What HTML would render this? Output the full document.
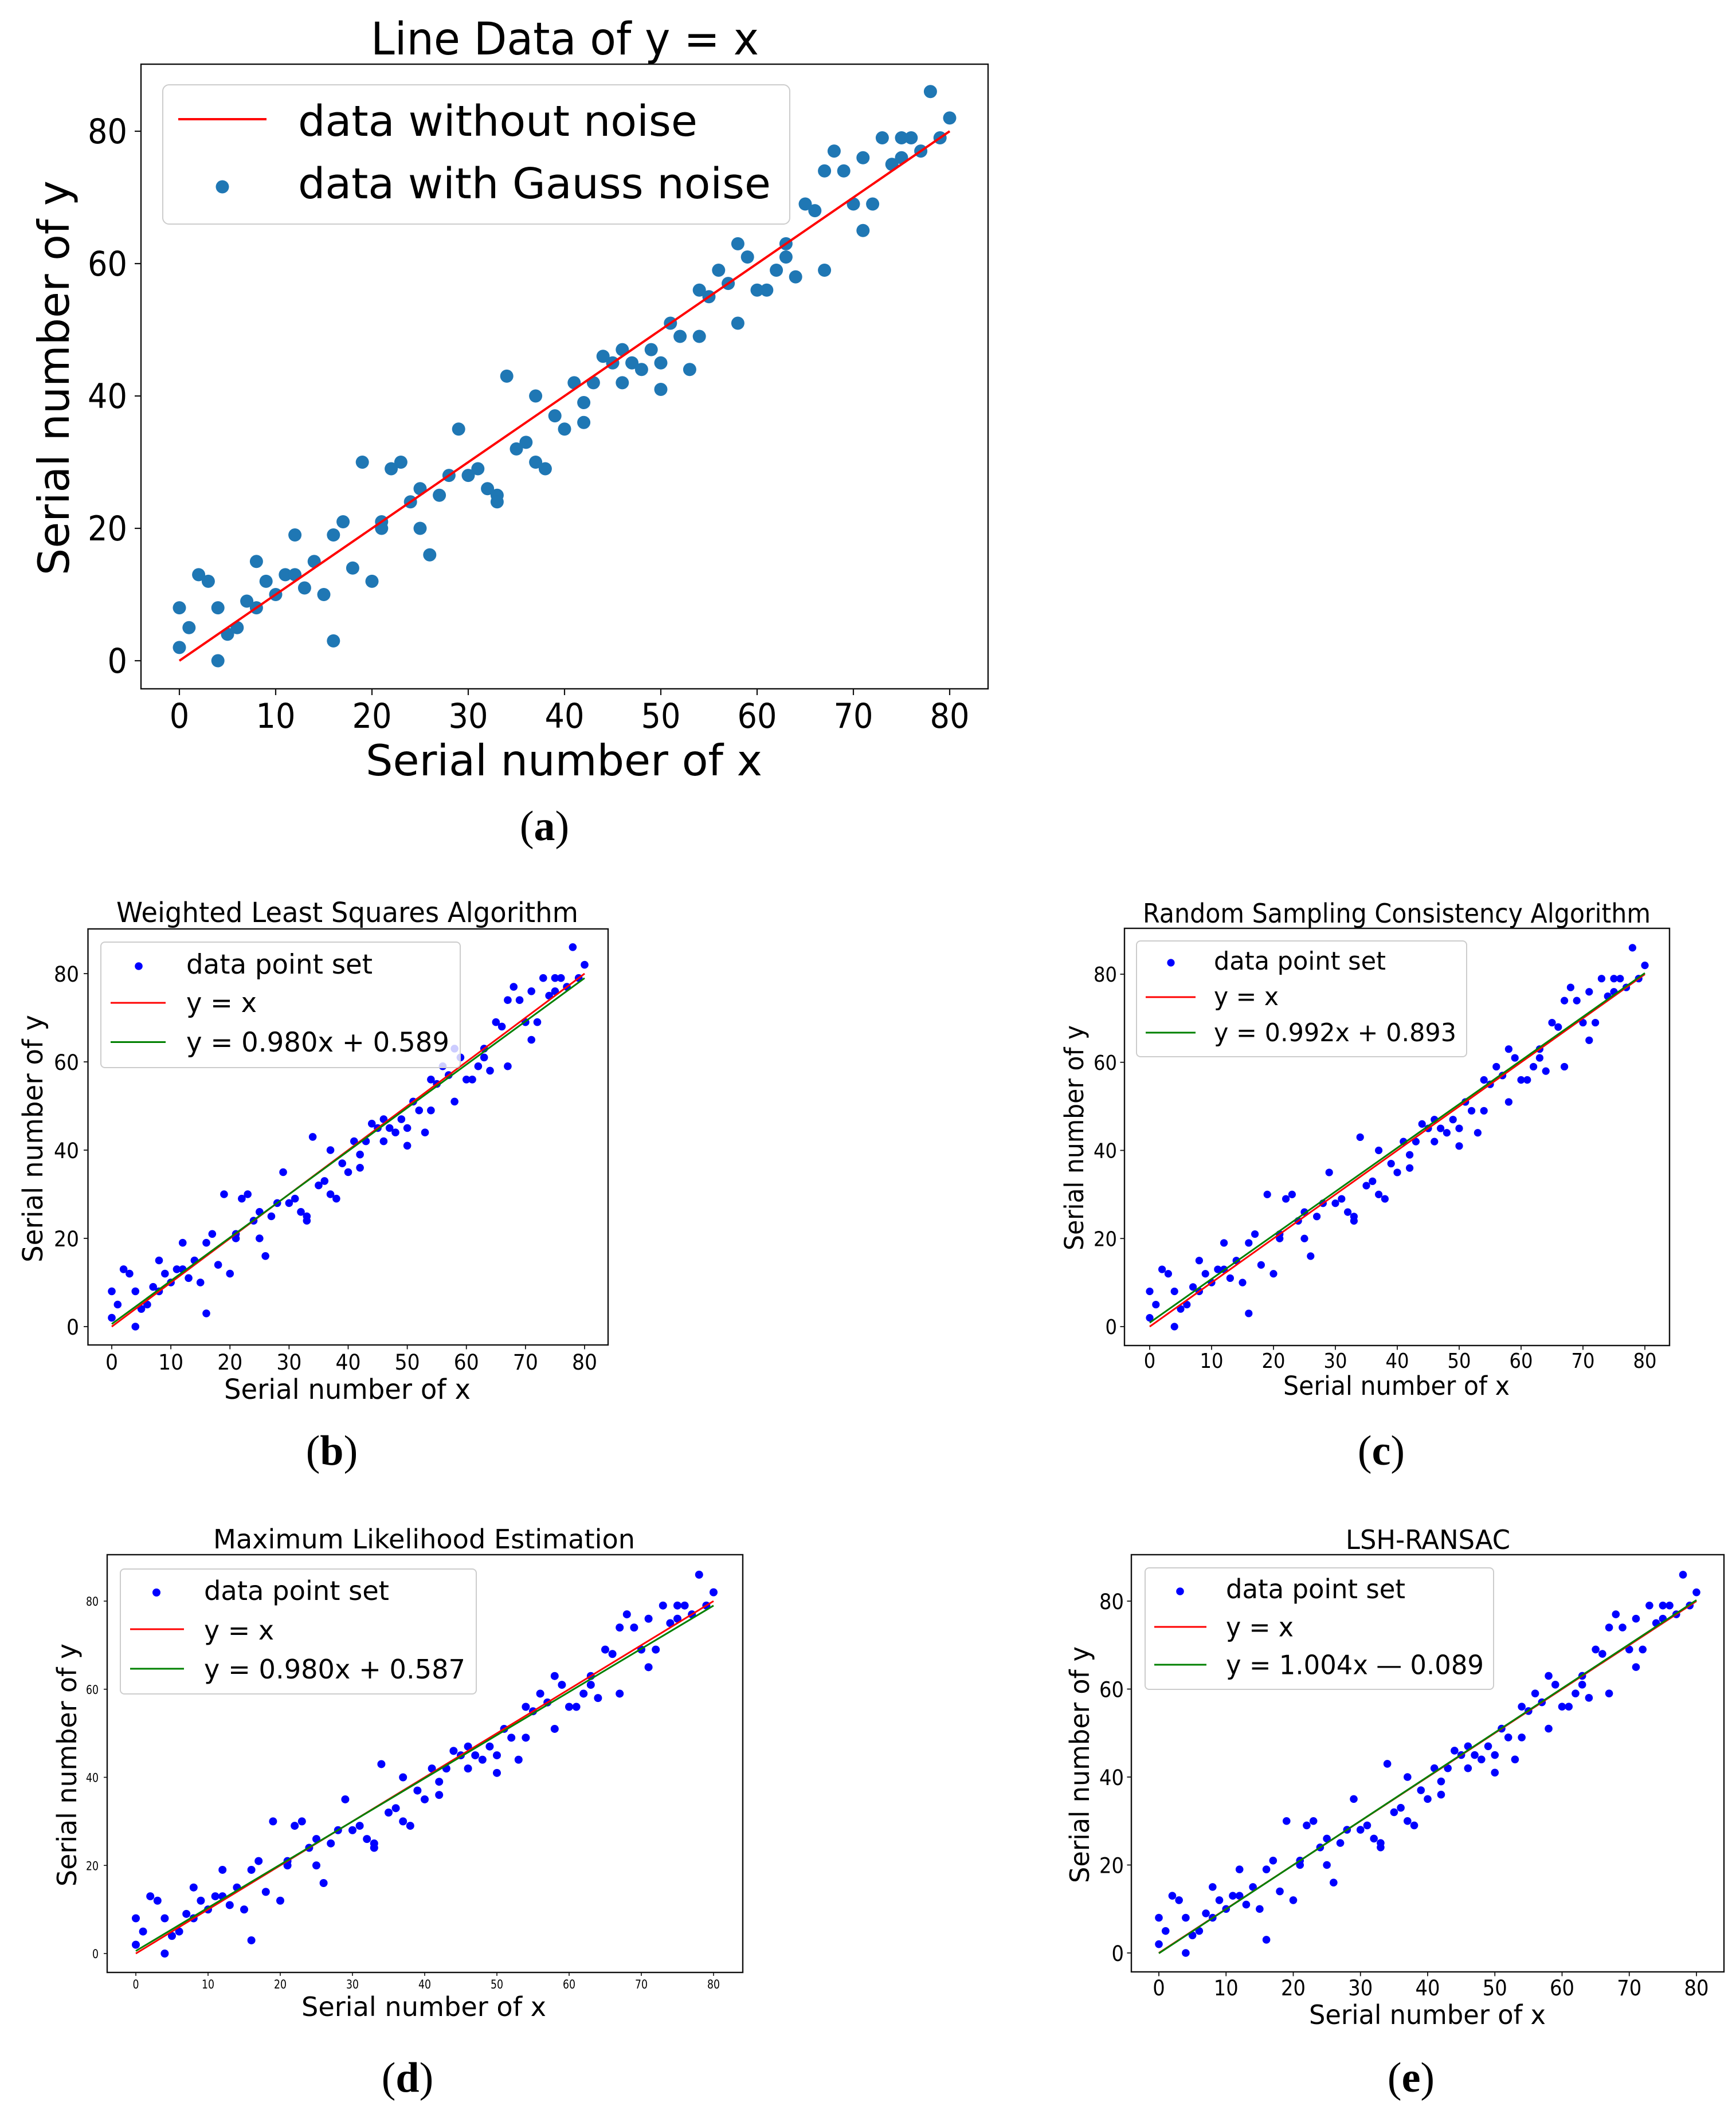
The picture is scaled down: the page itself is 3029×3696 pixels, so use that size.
<!DOCTYPE html>
<html lang="en">
<head>
<meta charset="utf-8">
<title>Line fitting algorithm comparison</title>
<style>
html,body{margin:0;padding:0;background:#fff;}
svg{display:block;}
text{font-family:"DejaVu Sans","Liberation Sans",sans-serif;fill:#000;}
.caption{font-family:"Liberation Serif",serif;font-size:74px;text-anchor:middle;}
.caption tspan{font-weight:bold;}
.legend-box{fill:#fff;fill-opacity:.8;stroke:#ccc;stroke-width:2;}
.frame{fill:none;stroke:#111;stroke-width:2.4;}
</style>
</head>
<body>
<svg id="figure" xmlns="http://www.w3.org/2000/svg" width="3029" height="3696" viewBox="0 0 3029 3696">
<rect width="3029" height="3696" fill="#fff"/>

<!-- Panel a -->
<g>
  <text x="647" y="95" font-size="78" textLength="677" lengthAdjust="spacingAndGlyphs">Line Data of y = x</text>
  <g id="marks-a"></g>
  <rect class="frame" x="246" y="112" width="1478" height="1090"/>
  <g id="ticks-a"></g>
  <text x="638" y="1353" font-size="75" textLength="692" lengthAdjust="spacingAndGlyphs">Serial number of x</text>
  <text transform="translate(120,1004) rotate(-90)" font-size="75" textLength="689" lengthAdjust="spacingAndGlyphs">Serial number of y</text>
  <g>
    <rect class="legend-box" x="284" y="148" width="1094" height="243" rx="11"/>
    <line x1="311" x2="465" y1="208" y2="208" stroke="#f00" stroke-width="4"/>
    <circle cx="388" cy="326" r="11.5" fill="#1f77b4"/>
    <text x="520" y="237" font-size="74" textLength="697" lengthAdjust="spacingAndGlyphs">data without noise</text>
    <text x="520" y="346" font-size="74" textLength="825" lengthAdjust="spacingAndGlyphs">data with Gauss noise</text>
  </g>
  <text class="caption" x="950" y="1466">(<tspan>a</tspan>)</text>
</g>

<!-- Panel b -->
<g>
  <text x="203" y="1609" font-size="48" textLength="806" lengthAdjust="spacingAndGlyphs">Weighted Least Squares Algorithm</text>
  <g id="marks-b"></g>
  <rect class="frame" x="153.5" y="1621" width="907.5" height="726"/>
  <g id="ticks-b"></g>
  <text x="391" y="2441" font-size="48" textLength="430" lengthAdjust="spacingAndGlyphs">Serial number of x</text>
  <text transform="translate(74,2203) rotate(-90)" font-size="48" textLength="432" lengthAdjust="spacingAndGlyphs">Serial number of y</text>
  <g>
    <rect class="legend-box" x="176" y="1644" width="627" height="219" rx="7"/>
    <circle cx="242" cy="1686" r="6.8" fill="#00f"/>
    <line x1="193" x2="289" y1="1750" y2="1750" stroke="#f00" stroke-width="3"/>
    <line x1="193" x2="289" y1="1818.5" y2="1818.5" stroke="#008000" stroke-width="3"/>
    <text x="325" y="1699" font-size="47" textLength="325" lengthAdjust="spacingAndGlyphs">data point set</text>
    <text x="325" y="1766" font-size="47" textLength="123" lengthAdjust="spacingAndGlyphs">y = x</text>
    <text x="325" y="1835" font-size="47" textLength="459" lengthAdjust="spacingAndGlyphs">y = 0.980x + 0.589</text>
  </g>
  <text class="caption" x="579" y="2556">(<tspan>b</tspan>)</text>
</g>

<!-- Panel c -->
<g>
  <text x="1994" y="1610" font-size="46" textLength="886" lengthAdjust="spacingAndGlyphs">Random Sampling Consistency Algorithm</text>
  <g id="marks-c"></g>
  <rect class="frame" x="1962" y="1620" width="951" height="728"/>
  <g id="ticks-c"></g>
  <text x="2239" y="2434" font-size="45" textLength="395" lengthAdjust="spacingAndGlyphs">Serial number of x</text>
  <text transform="translate(1890,2182) rotate(-90)" font-size="45" textLength="393" lengthAdjust="spacingAndGlyphs">Serial number of y</text>
  <g>
    <rect class="legend-box" x="1983" y="1642" width="576" height="202" rx="7"/>
    <circle cx="2043" cy="1680" r="6.6" fill="#00f"/>
    <line x1="1999" x2="2086" y1="1740" y2="1740" stroke="#f00" stroke-width="3"/>
    <line x1="1999" x2="2086" y1="1802" y2="1802" stroke="#008000" stroke-width="3"/>
    <text x="2118" y="1692" font-size="44" textLength="300" lengthAdjust="spacingAndGlyphs">data point set</text>
    <text x="2118" y="1754" font-size="44" textLength="113" lengthAdjust="spacingAndGlyphs">y = x</text>
    <text x="2118" y="1817" font-size="44" textLength="423" lengthAdjust="spacingAndGlyphs">y = 0.992x + 0.893</text>
  </g>
  <text class="caption" x="2410" y="2556">(<tspan>c</tspan>)</text>
</g>

<!-- Panel d -->
<g>
  <text x="372" y="2702" font-size="46" textLength="736" lengthAdjust="spacingAndGlyphs">Maximum Likelihood Estimation</text>
  <g id="marks-d"></g>
  <rect class="frame" x="187" y="2713" width="1109" height="729"/>
  <g id="ticks-d"></g>
  <text x="526" y="3518" font-size="46" textLength="427" lengthAdjust="spacingAndGlyphs">Serial number of x</text>
  <text transform="translate(133,3292) rotate(-90)" font-size="46" textLength="424" lengthAdjust="spacingAndGlyphs">Serial number of y</text>
  <g>
    <rect class="legend-box" x="210" y="2738" width="621" height="218" rx="7"/>
    <circle cx="273" cy="2779" r="7" fill="#00f"/>
    <line x1="227" x2="321" y1="2843" y2="2843" stroke="#f00" stroke-width="3"/>
    <line x1="227" x2="321" y1="2912" y2="2912" stroke="#008000" stroke-width="3"/>
    <text x="356" y="2792" font-size="46" textLength="323" lengthAdjust="spacingAndGlyphs">data point set</text>
    <text x="356" y="2861" font-size="46" textLength="122" lengthAdjust="spacingAndGlyphs">y = x</text>
    <text x="356" y="2929" font-size="46" textLength="456" lengthAdjust="spacingAndGlyphs">y = 0.980x + 0.587</text>
  </g>
  <text class="caption" x="711" y="3650">(<tspan>d</tspan>)</text>
</g>

<!-- Panel e -->
<g>
  <text x="2348" y="2703" font-size="46" textLength="287" lengthAdjust="spacingAndGlyphs">LSH-RANSAC</text>
  <g id="marks-e"></g>
  <rect class="frame" x="1974" y="2713" width="1034" height="728"/>
  <g id="ticks-e"></g>
  <text x="2284" y="3532" font-size="46" textLength="413" lengthAdjust="spacingAndGlyphs">Serial number of x</text>
  <text transform="translate(1900,3286) rotate(-90)" font-size="46" textLength="413" lengthAdjust="spacingAndGlyphs">Serial number of y</text>
  <g>
    <rect class="legend-box" x="1998" y="2736" width="608" height="212" rx="7"/>
    <circle cx="2059" cy="2777" r="6.8" fill="#00f"/>
    <line x1="2014" x2="2105" y1="2839" y2="2839" stroke="#f00" stroke-width="3"/>
    <line x1="2014" x2="2105" y1="2905" y2="2905" stroke="#008000" stroke-width="3"/>
    <text x="2139" y="2789" font-size="46" textLength="313" lengthAdjust="spacingAndGlyphs">data point set</text>
    <text x="2139" y="2855.5" font-size="46" textLength="118" lengthAdjust="spacingAndGlyphs">y = x</text>
    <text x="2139" y="2921.5" font-size="46" textLength="450" lengthAdjust="spacingAndGlyphs">y = 1.004x — 0.089</text>
  </g>
  <text class="caption" x="2462" y="3650">(<tspan>e</tspan>)</text>
</g>
</svg>

<script>
var xValues = [0,0,1,2,3,4,4,5,6,7,8,8,9,10,11,12,12,13,14,15,16,16,17,18,19,20,21,21,22,23,24,25,25,26,27,28,29,30,31,32,33,33,34,35,36,37,37,38,39,40,41,42,42,43,44,45,46,46,47,48,49,50,50,51,52,53,54,54,55,56,57,58,58,59,60,61,62,63,63,64,65,66,67,67,68,69,70,71,71,72,73,74,75,75,76,77,78,79,80];
var yValues = [8,2,5,13,12,8,0,4,5,9,15,8,12,10,13,19,13,11,15,10,19,3,21,14,30,12,21,20,29,30,24,26,20,16,25,28,35,28,29,26,25,24,43,32,33,40,30,29,37,35,42,39,36,42,46,45,47,42,45,44,47,45,41,51,49,44,56,49,55,59,57,63,51,61,56,56,59,63,61,58,69,68,74,59,77,74,69,76,65,69,79,75,79,76,79,77,86,79,82];
var xTickValues = [0,10,20,30,40,50,60,70,80];
var yTickValues = [0,20,40,60,80];
var lineEndsX = [0,80];
var identitySlope = [1];
var identityIntercept = [0];
var fitSlopes = [0.980,0.992,0.980,1.004];
var fitIntercepts = [0.589,0.893,0.587,-0.089];

var SVGNS = 'http://www.w3.org/2000/svg';

function makeXScale(p){ return function(v){ return p.x0 + v * (p.x80 - p.x0) / 80; }; }
function makeYScale(p){ return function(v){ return p.y0 + v * (p.y80 - p.y0) / 80; }; }

function drawLine(parent, name, sx, sy, slope, intercept, color, width){
  var el = document.createElementNS(SVGNS, 'line');
  
  
  el.setAttribute('x1', sx(lineEndsX[0]));
  el.setAttribute('y1', sy(slope * lineEndsX[0] + intercept));
  el.setAttribute('x2', sx(lineEndsX[1]));
  el.setAttribute('y2', sy(slope * lineEndsX[1] + intercept));
  el.setAttribute('stroke', color);
  el.setAttribute('stroke-width', width);
  parent.appendChild(el);
}

function drawTickMark(parent, name, x1, y1, x2, y2, width){
  var el = document.createElementNS(SVGNS, 'line');
  
  
  el.setAttribute('x1', x1);
  el.setAttribute('y1', y1);
  el.setAttribute('x2', x2);
  el.setAttribute('y2', y2);
  el.setAttribute('stroke', '#111');
  el.setAttribute('stroke-width', width);
  parent.appendChild(el);
}

function drawTickLabel(parent, name, label, x, y, size, digitWidth, anchor){
  var el = document.createElementNS(SVGNS, 'text');
  
  
  var k = digitWidth / (0.636 * size);
  el.setAttribute('transform', 'translate(' + x + ',' + y + ') scale(' + k + ',1)');
  el.setAttribute('font-size', size);
  el.setAttribute('text-anchor', anchor);
  el.textContent = label;
  parent.appendChild(el);
}

function drawPanel(p){
  var sx = makeXScale(p);
  var sy = makeYScale(p);
  var marks = document.getElementById('marks-' + p.id);
  var ticks = document.getElementById('ticks-' + p.id);
  xValues.forEach(function(xv, i){
    var el = document.createElementNS(SVGNS, 'circle');
    
    
    el.setAttribute('cx', sx(xv));
    el.setAttribute('cy', sy(yValues[i]));
    el.setAttribute('r', p.r);
    el.setAttribute('fill', p.dot);
    marks.appendChild(el);
  });
  drawLine(marks, 'identity-line', sx, sy, identitySlope[0], identityIntercept[0], '#f00', p.lw);
  if (p.fit >= 0) {
    drawLine(marks, 'fit-line', sx, sy, fitSlopes[p.fit], fitIntercepts[p.fit], '#008000', p.lw);
  }
  xTickValues.forEach(function(v){
    drawTickMark(ticks, 'x-tick-mark', sx(v), p.bottom, sx(v), p.bottom + p.tick, p.tw);
    drawTickLabel(ticks, 'x-tick-label', String(v), sx(v), p.xBase, p.fs, p.dw, 'middle');
  });
  yTickValues.forEach(function(v){
    drawTickMark(ticks, 'y-tick-mark', p.left - p.tick, sy(v), p.left, sy(v), p.tw);
    drawTickLabel(ticks, 'y-tick-label', String(v), p.labelRight, sy(v) + p.yShift, p.fs, p.dw, 'end');
  });
}

drawPanel({id:'a', x0:313, x80:1657, y0:1153, y80:229, left:246, bottom:1202, r:11.5, dot:'#1f77b4', lw:4, fit:-1, tick:11, tw:2.2, fs:60, dw:34.5, xBase:1270, labelRight:222, yShift:21});
drawPanel({id:'b', x0:195, x80:1020, y0:2315, y80:1699, left:153.5, bottom:2347, r:6.8, dot:'#00f', lw:3, fit:0, tick:7.5, tw:1.8, fs:37, dw:22, xBase:2390, labelRight:138, yShift:14});
drawPanel({id:'c', x0:2006, x80:2870, y0:2315, y80:1700, left:1962, bottom:2348, r:6.6, dot:'#00f', lw:3, fit:1, tick:7.5, tw:1.8, fs:36, dw:20.5, xBase:2387, labelRight:1949, yShift:13});
drawPanel({id:'d', x0:237, x80:1245, y0:3409, y80:2794, left:187, bottom:3442, r:7, dot:'#00f', lw:3, fit:2, tick:6, tw:1.6, fs:21, dw:11, xBase:3470, labelRight:172, yShift:8});
drawPanel({id:'e', x0:2022, x80:2960, y0:3408, y80:2794, left:1974, bottom:3441, r:6.8, dot:'#00f', lw:3, fit:3, tick:7.5, tw:1.8, fs:37, dw:21.5, xBase:3482, labelRight:1961, yShift:14});
</script>
</body>
</html>
